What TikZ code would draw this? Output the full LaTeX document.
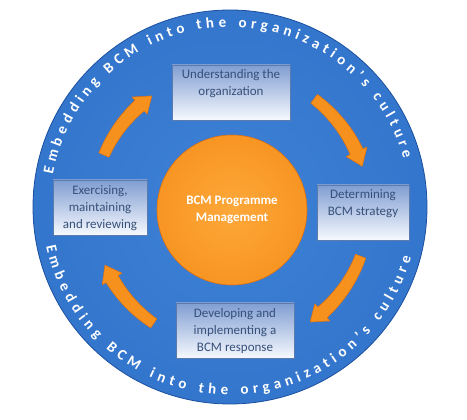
\documentclass[tikz,border=0pt]{standalone}
\usepackage{fontspec}
\setmainfont{Carlito}
\usetikzlibrary{decorations.text,calc}
\definecolor{bluelight}{RGB}{62,130,214}
\definecolor{bluemid}{RGB}{46,112,200}
\definecolor{blueedge}{RGB}{28,80,160}
\definecolor{orangelight}{RGB}{253,168,58}
\definecolor{orangemain}{RGB}{247,145,30}
\definecolor{orangedark}{RGB}{222,112,14}
\definecolor{boxtop}{RGB}{128,158,210}
\definecolor{boxbot}{RGB}{246,249,254}
\definecolor{boxborder}{RGB}{92,122,172}
\definecolor{boxtext}{RGB}{55,80,122}
\pgfdeclareradialshading{bluedisc}{\pgfpoint{0bp}{0bp}}{color(0bp)=(bluelight); color(36bp)=(bluemid); color(47bp)=(bluemid); color(50bp)=(blueedge)}
\pgfdeclareradialshading{orangedisc}{\pgfpoint{0bp}{0bp}}{color(0bp)=(orangelight); color(30bp)=(orangemain); color(46bp)=(orangemain); color(50bp)=(orangedark)}
\newcommand{\ox}{231}
\newcommand{\oy}{211}
\newcommand{\curvedarrow}[2]{%
  \fill[arrowfill] plot[domain=#1:#2+6.5, samples=24]
    ({\ox+(138+5.5+1.5*(\x-(#1))/((#2)+6.5-(#1)))*cos(\x)},{\oy+(138+5.5+1.5*(\x-(#1))/((#2)+6.5-(#1)))*sin(\x)})
    -- ({\ox+149.5*cos(#2+6.5)},{\oy+149.5*sin(#2+6.5)})
    -- ({\ox+138*cos(#2)},{\oy+138*sin(#2)})
    -- ({\ox+126.5*cos(#2+6.5)},{\oy+126.5*sin(#2+6.5)})
    -- plot[domain=#2+6.5:#1, samples=24]
    ({\ox+(138-5.5-1.5*(\x-(#1))/((#2)+6.5-(#1)))*cos(\x)},{\oy+(138-5.5-1.5*(\x-(#1))/((#2)+6.5-(#1)))*sin(\x)})
    -- cycle;}
\tikzset{
  boxstyle/.style={draw=boxborder, line width=0.8pt, top color=boxtop, bottom color=boxbot,
    minimum width=#1, minimum height=55pt, inner sep=0pt},
  boxtxt/.style={text=boxtext, font=\fontsize{13}{17}\selectfont, align=center, inner sep=0pt},
  arrowfill/.style={fill=orangemain, draw=orangedark, line width=0.5pt, line join=round},
  ringtext/.style={decorate, decoration={text along path,
    text={|\bfseries\fontsize{15}{15}\selectfont|Embedding BCM into the organization’s culture},
    text align={fit to path}, text color=white}}
}
\begin{document}
\begin{tikzpicture}[x=1pt,y=1pt]
\useasboundingbox (0,0) rectangle (467,420);
\fill[white] (0,0) rectangle (467,420);
\coordinate (O) at (\ox,\oy);
\coordinate (BC) at (230,213);
% blue disc
\path[shading=bluedisc] (BC) circle[radius=197];
\draw[blueedge, line width=0.8pt] (BC) circle[radius=197];
% ring texts
\path[ringtext] ($(BC)+(169.5:180)$) arc[start angle=169.5, end angle=15.5, radius=180];
\path[ringtext] ($(BC)+(192:188)$) arc[start angle=192, end angle=344.5, radius=188];
% centre disc
\node[circle, minimum size=150pt, inner sep=0pt, shading=orangedisc, draw=orangedark, line width=0.6pt] (core) at (232,210) {};
\node[text=white, font=\bfseries\fontsize{13}{17}\selectfont, align=center, inner sep=0pt] (coretext) at (core.center) {BCM Programme\\Management};
% boxes
\node[boxstyle=118pt] (top) at (231,327.5) {};
\node[boxtxt] (toptext) at (231,336.5) {Understanding the\\organization};
\node[boxstyle=92pt] (right) at (363,207.5) {};
\node[boxtxt] (righttext) at (363,216) {Determining\\BCM strategy};
\node[boxstyle=94pt] (left) at (100,212.5) {};
\node[boxtxt] (lefttext) at (100,212) {Exercising,\\maintaining\\and reviewing};
\node[boxstyle=118pt] (bottom) at (235,89.5) {};
\node[boxtxt] (bottomtext) at (235,88.5) {Developing and\\implementing a\\BCM response};
% arrows
\curvedarrow{157}{125}
\curvedarrow{53}{18}
\curvedarrow{-20}{-55}
\curvedarrow{-124}{-156}
\end{tikzpicture}
\end{document}
